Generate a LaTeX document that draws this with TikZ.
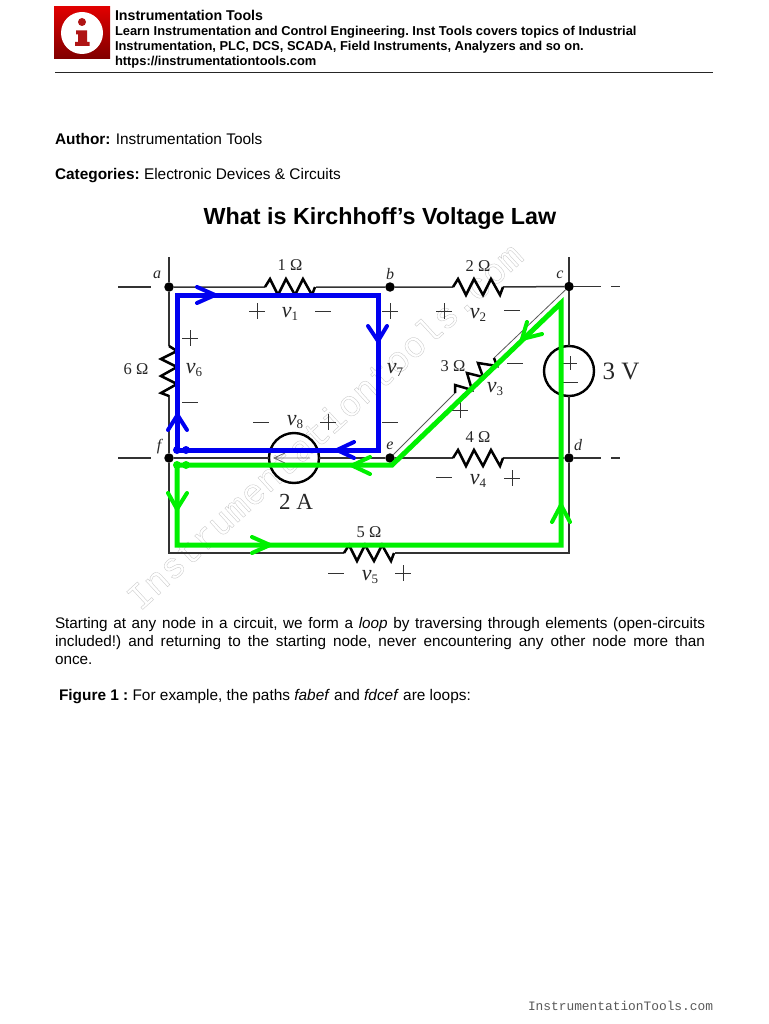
\documentclass[tikz,border=0pt]{standalone}
\usepackage{fontspec}
\setmainfont{Liberation Sans}
\newfontfamily\tmsf{Liberation Serif}
\newfontfamily\monof{Liberation Mono}
\usetikzlibrary{calc}
\AtBeginDocument{\frenchspacing}
\newcommand\fsz[1]{\fontsize{#1}{#1}\selectfont}
\newcommand\vlab[1]{{\tmsf\fsz{22}\itshape v}\raisebox{-3.5pt}{\tmsf\fsz{13}#1}}
\newcommand\ohm[1]{{\tmsf\fsz{16.5}#1 Ω}}
\definecolor{bluepath}{RGB}{0,0,240}
\definecolor{greenpath}{RGB}{0,240,0}
\definecolor{logored}{RGB}{175,20,20}
\tikzset{
  txt/.style={inner sep=0pt,outer sep=0pt,anchor=base west,text=black},
  lbl/.style={inner sep=0pt,outer sep=0pt,anchor=center,text=black!85},
  nodename/.style={lbl,font=\tmsf\itshape\fsz{16}},
  dot/.style={circle,fill=black,inner sep=0pt,minimum size=9.5pt,outer sep=0pt},
  wire/.style={line width=1.5pt,draw=black!80},
  thinwire/.style={line width=0.8pt,draw=black!65},
  zig/.style={line width=2.5pt,draw=black,line join=miter},
  src/.style={circle,draw=black,line width=2.4pt,minimum size=50pt,inner sep=0pt,outer sep=0pt},
  bluep/.style={draw=bluepath,line width=5pt,line join=miter},
  greenp/.style={draw=greenpath,line width=5pt,line join=miter},
  bluechev/.style={draw=bluepath,line width=4pt,line cap=round,line join=miter},
  greenchev/.style={draw=greenpath,line width=4pt,line cap=round,line join=miter},
  signmark/.style={line width=0.8pt,draw=black!80},
  plusmark/.pic={\draw[signmark] (-8,0)--(8,0) (0,-8)--(0,8);},
  minusmark/.pic={\draw[signmark] (-8,0)--(8,0);},
  resbody/.pic={\draw[zig] (0,0)--(5,-8)--(13,8)--(21,-8)--(30,8)--(38,-8)--(47,8)--(50,0);},
}
\begin{document}
\begin{tikzpicture}[x=1pt,y=-1pt]
\useasboundingbox (0,0) rectangle (768,1024);
% logo
\shade[top color=red!88!black,bottom color=red!50!black] (54,7) rectangle (110,59);
\fill[white] (82,33) circle (21);
\fill[logored] (82,22) circle (4);
\fill[logored] (76,30.5)--(87,30.5)--(87,42)--(89.5,42)--(89.5,46)--(75,46)--(75,42)--(78,42)--(78,34.5)--(76,34.5)--cycle;
% header
\node[txt,font=\bfseries\fsz{14.2}] (h1) at (115,20.5) {Instrumentation Tools};
\node[txt,font=\bfseries\fsz{12.9}] (h2) at (115,35.5) {Learn Instrumentation and Control Engineering. Inst Tools covers topics of Industrial};
\node[txt,font=\bfseries\fsz{12.9}] (h3) at (115,50.5) {Instrumentation, PLC, DCS, SCADA, Field Instruments, Analyzers and so on.};
\node[txt,font=\bfseries\fsz{12.9}] (h4) at (115,65.5) {https://instrumentationtools.com};
\coordinate (ruleL) at (55,72.5); \coordinate (ruleR) at (713,72.5);
\draw[line width=1pt,black!85] (ruleL)--(ruleR);
\node[txt,font=\fsz{15.4}] (author) at (55,144.5) {\textbf{Author:}\hspace{1pt} Instrumentation Tools};
\node[txt,font=\fsz{15.4}] (cat) at (55,179.5) {\textbf{Categories:} Electronic Devices \& Circuits};
\node[txt,font=\bfseries\fsz{23.3},anchor=base] (title) at (380,225) {What is Kirchhoff’s Voltage Law};
% watermark
\node[inner sep=0pt,anchor=base west,rotate=42.5,text=black!22,font=\monof\fsz{36.3}] (wm) at (140,612)
  {\special{pdf:code 1 Tr 0.35 w}Instrumentationtools.com\special{pdf:code 0 Tr}};
% circuit junctions
\node[dot] (a) at (169,287) {};
\node[dot] (b) at (390,287) {};
\node[dot] (c) at (569,286.5) {};
\node[dot] (d) at (569,458) {};
\node[dot] (e) at (390,458) {};
\node[dot] (f) at (169,458) {};
\node[src] (s2) at (294,458) {};
\node[src] (s3) at (569,371) {};
% free wire ends
\coordinate (tA) at (169,257); \coordinate (tC) at (569,257);
\coordinate (ll1) at (118,287); \coordinate (ll1b) at (151,287);
\coordinate (ll2) at (118,458); \coordinate (ll2b) at (151,458);
\coordinate (rc1) at (601,286.5); \coordinate (rc2) at (611,286.5); \coordinate (rc3) at (620,286.5);
\coordinate (rd1) at (601,458); \coordinate (rd2) at (611,458); \coordinate (rd3) at (620,458);
\coordinate (BL) at (169,553); \coordinate (BR) at (569,553);
\coordinate (r1a) at (265,287); \coordinate (r1b) at (316,287);
\coordinate (r2a) at (453,287); \coordinate (r2b) at (503,287);
\coordinate (r4a) at (453,458); \coordinate (r4b) at (503,458);
\coordinate (r5a) at (344,553); \coordinate (r5b) at (395,553);
\coordinate (r6a) at (169,346); \coordinate (r6b) at (169,395);
\coordinate (r3a) at (455,393); \coordinate (r3b) at (494,358);
% wires
\draw[wire] (tA)--(a) (a)--(r6a) (r6b)--(f) (f)--(BL)--(r5a) (r5b)--(BR)--(d) (d)--(s3) (s3)--(c) (c)--(tC);
\draw[wire] (ll1)--(ll1b) (ll2)--(ll2b) (c)--(rc1) (rc2)--(rc3) (d)--(rd1) (rd2)--(rd3);
\draw[wire] (a)--(r1a) (r1b)--(b) (b)--(r2a) (r2b)--(c);
\draw[wire] (f)--(s2) (s2)--(e) (e)--(r4a) (r4b)--(d);
\draw[thinwire] (e)--(r3a) (r3b)--(c);
\draw[line width=0.8pt,black!60] (276,458)--(310,458) (285,453)--(274,458)--(285,463);
% resistors
\pic at (r1a) {resbody};
\pic at (r2a) {resbody};
\pic at (r4a) {resbody};
\pic at (r5a) {resbody};
\pic[rotate=-90] at (r6a) {resbody};
\draw[zig] (r3a)--(455,385)--(472,390)--(467,373)--(483,377)--(478,363)--(497,366)--(r3b);
% 3 V source signs
\draw[line width=1pt,black!80] (563,363)--(577,363) (570,356)--(570,370) (562,382)--(578,382);
% labels
\node[nodename] (la) at (157,275) {a};
\node[nodename] (lb) at (390,274) {b};
\node[nodename] (lc) at (560,275) {c};
\node[nodename] (ld) at (578,445) {d};
\node[nodename] (le) at (390,446) {e};
\node[nodename] (lf) at (159,447) {f};
\node[lbl] (o1) at (290,265) {\ohm{1}};
\node[lbl] (o2) at (478,266) {\ohm{2}};
\node[lbl] (o3) at (453,366) {\ohm{3}};
\node[lbl] (o4) at (478,437) {\ohm{4}};
\node[lbl] (o5) at (369,532) {\ohm{5}};
\node[lbl] (o6) at (136,369) {\ohm{6}};
\node[lbl] (v1) at (290,314) {\vlab{1}};
\node[lbl] (v2) at (478,315) {\vlab{2}};
\node[lbl] (v3) at (495,389) {\vlab{3}};
\node[lbl] (v4) at (478,481) {\vlab{4}};
\node[lbl] (v5) at (370,577) {\vlab{5}};
\node[lbl] (v6) at (194,370) {\vlab{6}};
\node[lbl] (v7) at (395,370) {\vlab{7}};
\node[lbl] (v8) at (295,422) {\vlab{8}};
\node[lbl,font=\tmsf\fsz{23}] (i2) at (296,502) {2 A};
\node[lbl,font=\tmsf\fsz{25}] (u3) at (621,371) {3 V};
% signs
\pic at (257,311) {plusmark};
\pic at (323,311) {minusmark};
\pic at (390,311) {plusmark};
\pic at (390,422) {minusmark};
\pic at (444,311) {plusmark};
\pic at (512,310) {minusmark};
\pic at (190,338) {plusmark};
\pic at (190,402) {minusmark};
\pic at (261,422) {minusmark};
\pic at (328,422) {plusmark};
\pic at (460,410) {plusmark};
\pic at (515,363) {minusmark};
\pic at (444,477) {minusmark};
\pic at (512,478) {plusmark};
\pic at (336,573) {minusmark};
\pic at (403,573) {plusmark};
% green loop
\coordinate (g1) at (177,465); \coordinate (g2) at (392,465); \coordinate (g3) at (561,303); \coordinate (g4) at (561,545); \coordinate (g5) at (177,545);
\draw[greenp] (g1)--(g2)--(g3)--(g4)--(g5)--cycle;
\fill[greenpath] (g1) circle (4) (186,465) circle (4);
\draw[greenchev] (370,457)--(352,465.5)--(370,474);
\draw[greenchev] (168,493)--(177,509)--(187,493);
\draw[greenchev] (252,537)--(270,545)--(252,553);
\draw[greenchev] (552,522)--(561,505)--(570,522);
\draw[greenchev] (527,322)--(522,339)--(542,334);
% blue loop
\coordinate (b1) at (177,295); \coordinate (b2) at (378,295); \coordinate (b3) at (378,450); \coordinate (b4) at (177,450);
\draw[bluep] (b1)--(b2)--(b3)--(b4)--cycle;
\fill[bluepath] (b4) circle (4) (186,450) circle (4);
\draw[bluechev] (197,287)--(215,295)--(197,303);
\draw[bluechev] (368,326)--(378,341)--(387,326);
\draw[bluechev] (354,442)--(337,450)--(354,458);
\draw[bluechev] (168,430)--(177.5,415)--(187,430);
% body
\node[txt,font=\fsz{15.3}] (p1) at (55,628) {\makebox[650pt][s]{Starting at any node in a circuit, we form a \textit{loop} by traversing through elements (open-circuits}};
\node[txt,font=\fsz{15.3}] (p2) at (55,646) {\makebox[650pt][s]{included!) and returning to the starting node, never encountering any other node more than}};
\node[txt,font=\fsz{15.3}] (p3) at (55,664) {once.};
\node[txt,font=\fsz{15.4}] (p4) at (59,700) {\textbf{Figure 1 :} For example, the paths \textit{fabef} and \textit{fdcef} are loops:};
\node[txt,text=black!65,font=\monof\fsz{12.85}] (foot) at (528,1010) {InstrumentationTools.com};
\end{tikzpicture}
\end{document}
